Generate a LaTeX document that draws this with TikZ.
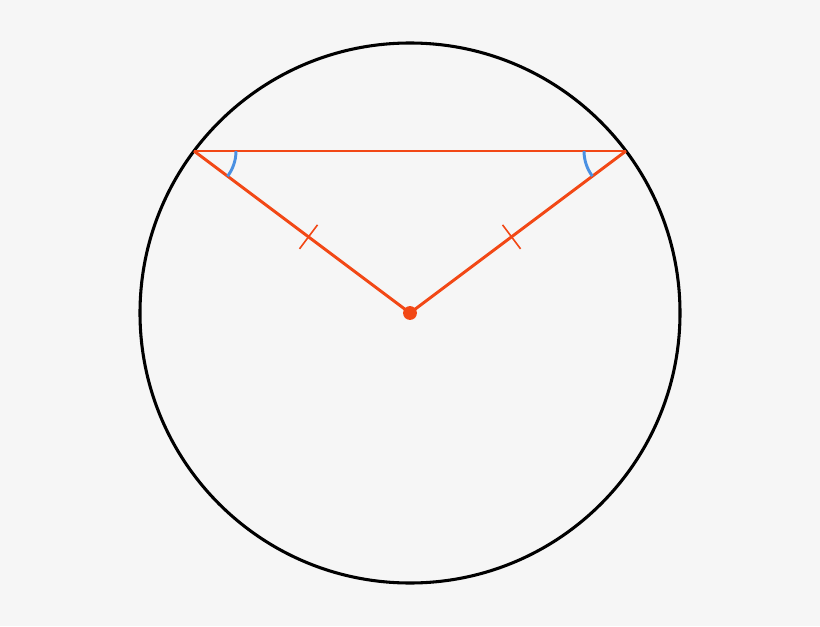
\documentclass[tikz,border=0pt]{standalone}
\usetikzlibrary{calc}
\definecolor{bg}{RGB}{246,246,246}
\definecolor{seg}{RGB}{242,72,22}
\definecolor{ang}{RGB}{74,144,226}
\tikzset{
  segline/.style={draw=seg, line width=2.2pt},
  tickline/.style={draw=seg, line width=1.2pt},
  angarc/.style={draw=ang, line width=2.2pt},
  rim/.style={draw=black, line width=2.3pt}
}
\begin{document}
\begin{tikzpicture}[x=0.75pt,y=0.75pt]
\fill[bg] (0,0) rectangle (820,626);
\useasboundingbox (0,0) rectangle (820,626);
\coordinate (O) at (410,313);
\coordinate (A) at (194,475);
\coordinate (B) at (626,475);
\draw[rim] (O) circle[radius=202.5pt];
\draw[segline] (A) -- (B);
\draw[segline] (A) -- (O) coordinate[pos=0.53] (m1);
\draw[segline] (B) -- (O) coordinate[pos=0.53] (m2);
\draw[tickline] ($(m1)+(9,12)$) -- ($(m1)+(-9,-12)$);
\draw[tickline] ($(m2)+(-9,12)$) -- ($(m2)+(9,-12)$);
\draw[angarc] ($(A)+(42,0)$) arc[start angle=0, end angle=-36.87, radius=31.5pt];
\draw[angarc] ($(B)+(-42,0)$) arc[start angle=180, end angle=216.87, radius=31.5pt];
\fill[seg] (O) circle[radius=5.2pt];
\end{tikzpicture}
\end{document}
